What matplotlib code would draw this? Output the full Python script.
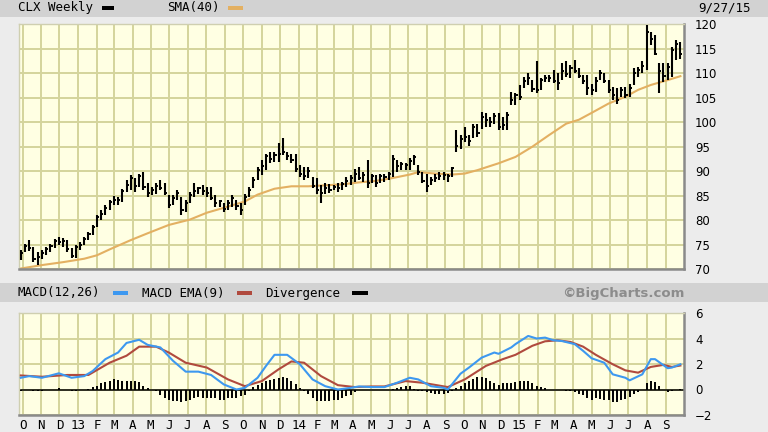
import matplotlib
matplotlib.use('Agg')
import matplotlib.pyplot as plt
import numpy as np
from matplotlib.patches import Rectangle

# weekly CLX bars (week 0 = 2012-09-28)
high = [73.8, 75.2, 75.9, 74.5, 73.5, 73.8, 74.5, 75.2, 76.2, 76.6,
        76.4, 75.9, 74.2, 74.9, 75.5, 76.6, 77.6, 79.0, 81.1, 82.0,
        83.0, 84.0, 85.0, 84.7, 86.4, 88.2, 89.2, 88.5, 89.5, 89.9,
        87.5, 86.8, 87.5, 88.2, 87.5, 85.1, 85.1, 86.1, 84.7, 84.1,
        85.8, 87.5, 86.8, 87.1, 86.8, 86.8, 85.1, 84.1, 83.4, 84.1,
        85.1, 84.1, 83.4, 85.4, 86.8, 88.8, 90.9, 92.3, 93.6, 94.0,
        94.0, 95.7, 96.7, 94.0, 93.6, 93.6, 91.2, 90.9, 90.9, 88.8,
        88.5, 87.1, 87.5, 87.3, 87.1, 87.5, 87.8, 88.8, 89.2, 90.5,
        90.9, 89.9, 92.3, 89.5, 89.2, 89.5, 89.5, 89.9, 93.3, 92.3,
        91.9, 91.6, 92.6, 93.3, 91.2, 89.9, 89.5, 88.8, 89.5, 89.9,
        89.9, 89.5, 90.9, 98.4, 97.4, 99.1, 97.4, 99.7, 99.7, 102.1,
        101.8, 101.1, 101.8, 101.8, 101.1, 102.1, 106.2, 105.9, 107.6, 109.3,
        110.0, 108.6, 112.4, 109.0, 109.6, 109.6, 110.7, 110.0, 112.0, 112.4,
        111.7, 112.7, 111.0, 109.6, 109.6, 107.9, 109.3, 110.7, 110.0, 108.6,
        107.2, 106.9, 107.2, 107.2, 107.9, 111.0, 111.3, 112.4, 119.9, 118.5,
        117.8, 112.0, 112.0, 112.0, 115.4, 116.8, 116.4]
low = [71.8, 73.5, 73.6, 71.4, 70.8, 72.1, 72.8, 73.5, 74.2, 74.9,
       74.5, 73.5, 72.3, 72.3, 73.8, 74.9, 75.9, 76.9, 78.6, 80.0,
       81.0, 82.0, 83.0, 83.0, 83.7, 85.8, 86.1, 85.8, 86.8, 86.1,
       84.7, 85.1, 85.4, 86.1, 85.1, 82.4, 83.0, 84.1, 81.0, 81.7,
       83.4, 84.7, 85.4, 85.1, 84.7, 84.1, 82.7, 82.7, 81.7, 82.0,
       82.7, 82.0, 81.1, 83.0, 84.8, 86.5, 88.2, 89.2, 90.2, 91.6,
       91.9, 91.9, 93.3, 92.3, 91.6, 89.9, 88.8, 88.2, 88.5, 86.5,
       85.4, 83.4, 85.4, 85.6, 86.1, 85.8, 86.1, 86.8, 87.1, 87.8,
       88.2, 87.8, 86.5, 87.5, 86.8, 87.5, 87.8, 88.2, 88.8, 89.9,
       90.2, 90.2, 90.2, 91.2, 89.2, 87.5, 85.8, 87.1, 87.8, 88.2,
       88.2, 87.8, 88.8, 94.0, 94.6, 96.0, 95.1, 96.7, 97.0, 98.7,
       99.1, 99.1, 99.7, 98.4, 98.4, 98.4, 103.5, 103.5, 104.5, 106.9,
       107.6, 106.2, 105.9, 106.6, 108.3, 108.3, 108.0, 106.6, 108.6, 109.3,
       109.0, 110.0, 109.0, 107.9, 105.5, 105.5, 106.2, 108.6, 108.0, 105.9,
       104.5, 103.8, 105.2, 104.9, 105.2, 107.6, 109.3, 110.0, 110.7, 115.8,
       113.7, 105.9, 108.3, 108.6, 109.3, 112.7, 113.0]
close = [73.2, 74.8, 74.2, 72.0, 72.5, 73.2, 74.0, 74.6, 75.8, 75.5,
         75.8, 74.0, 72.6, 74.4, 75.0, 76.2, 77.2, 78.6, 80.6, 81.2,
         82.5, 83.6, 84.0, 84.2, 86.0, 87.2, 88.5, 87.0, 89.0, 86.8,
         85.5, 86.2, 87.0, 86.5, 85.5, 83.0, 84.6, 85.6, 82.0, 83.5,
         85.2, 86.0, 86.5, 86.0, 85.5, 84.6, 83.5, 83.8, 82.2, 83.5,
         84.6, 82.8, 82.0, 84.8, 86.2, 88.2, 90.2, 91.0, 93.0, 92.4,
         93.2, 93.4, 94.0, 93.0, 92.2, 90.5, 89.5, 89.0, 90.0, 87.0,
         86.2, 85.5, 86.5, 86.2, 86.8, 86.6, 87.3, 88.0, 88.5, 89.5,
         88.6, 89.2, 87.5, 89.0, 87.5, 89.0, 88.8, 89.5, 92.5, 91.0,
         91.5, 91.2, 92.0, 92.8, 89.8, 88.0, 87.0, 88.2, 88.5, 89.0,
         89.2, 89.0, 90.6, 95.2, 96.5, 97.0, 96.2, 99.0, 97.8, 101.0,
         100.5, 100.0, 101.2, 99.0, 99.5, 101.5, 104.5, 105.5, 105.2, 108.5,
         109.0, 106.8, 106.5, 108.7, 109.0, 109.0, 108.5, 108.0, 110.5, 109.8,
         111.0, 110.5, 109.5, 108.5, 107.0, 106.5, 108.5, 110.0, 108.5, 106.5,
         105.5, 104.5, 106.5, 105.5, 107.0, 110.0, 110.6, 111.5, 118.5, 117.0,
         114.0, 110.5, 109.5, 111.2, 114.8, 116.0, 114.0]

# SMA(40) read at a few weeks
sma_week = [0, 5, 10, 15, 18, 21, 26, 30, 35, 40, 44, 48, 53, 56, 60, 64, 68, 72, 76, 80,
            84, 88, 92, 94, 98, 102, 105, 108, 113, 117, 121, 125, 129, 132, 135, 139, 143, 146, 149, 153, 156]
sma = [70.1, 70.8, 71.4, 72.1, 72.8, 74.0, 75.9, 77.3, 79.0, 80.1, 81.5, 82.5, 83.8, 85.2, 86.4, 86.9, 86.9, 87.1, 87.3, 87.7,
       88.0, 88.6, 89.3, 89.8, 89.5, 89.3, 89.5, 90.2, 91.6, 92.9, 95.0, 97.4, 99.7, 100.5, 101.9, 103.8, 105.2, 106.6, 107.6, 108.6, 109.4]

# MACD(12,26)
macd_week = [0, 2, 5, 9, 12, 15, 17, 20, 23, 25, 28, 30, 33, 36, 39, 42, 45, 48, 51, 53,
             56, 58, 60, 63, 66, 69, 72, 75, 78, 80, 83, 86, 89, 92, 94, 97, 100, 101, 104, 106,
             109, 112, 113, 116, 117, 120, 122, 124, 126, 128, 131, 133, 135, 138, 140, 143, 144, 147, 149, 150,
             153, 154, 156]
macd = [0.92, 1.05, 0.92, 1.27, 0.92, 1.05, 1.45, 2.38, 2.9, 3.65, 3.9, 3.5, 3.3, 2.25, 1.4, 1.4, 1.14, 0.4, 0.0, 0.13,
        0.92, 1.85, 2.72, 2.72, 1.98, 0.79, 0.26, 0.0, 0.13, 0.24, 0.19, 0.19, 0.53, 0.92, 0.79, 0.26, 0.13, 0.0, 1.24, 1.72,
        2.5, 2.9, 2.8, 3.3, 3.56, 4.2, 4.0, 4.07, 3.86, 3.8, 3.56, 3.03, 2.45, 2.1, 1.19, 0.92, 0.72, 1.19, 2.38, 2.38,
        1.67, 1.72, 1.98]

# MACD EMA(9)
sig_week = [0, 5, 11, 16, 21, 25, 28, 32, 35, 39, 44, 49, 53, 57, 61, 64, 67, 71, 75, 79,
            83, 86, 91, 95, 101, 105, 110, 114, 117, 121, 124, 127, 130, 133, 136, 140, 143, 146, 149, 152,
            154, 156]
sig = [1.1, 1.0, 1.14, 1.14, 2.1, 2.65, 3.36, 3.36, 2.9, 2.1, 1.72, 0.79, 0.26, 0.66, 1.59, 2.2, 2.1, 1.05, 0.34, 0.19,
       0.24, 0.24, 0.66, 0.53, 0.19, 0.79, 1.85, 2.38, 2.72, 3.43, 3.78, 3.86, 3.73, 3.36, 2.72, 1.98, 1.5, 1.32, 1.77, 1.93,
       1.77, 1.88]

# Divergence (weekly)
hist = [-0.1, -0.05, 0, -0.1, -0.1, -0.15, 0, 0, 0, 0.1,
        0, 0, -0.15, -0.1, -0.05, 0, 0.05, 0.2, 0.3, 0.5,
        0.6, 0.7, 0.8, 0.75, 0.66, 0.7, 0.66, 0.7, 0.6, 0.26,
        0.13, 0, -0.13, -0.4, -0.7, -0.8, -0.87, -0.93, -1.0, -0.87,
        -0.8, -0.66, -0.6, -0.66, -0.7, -0.66, -0.7, -0.8, -0.8, -0.7,
        -0.7, -0.66, -0.53, -0.4, -0.13, 0.2, 0.35, 0.53, 0.66, 0.74,
        0.85, 0.93, 0.98, 0.87, 0.66, 0.4, 0.08, -0.13, -0.34, -0.66,
        -0.87, -0.93, -0.87, -0.87, -0.8, -0.8, -0.7, -0.53, -0.4, -0.2,
        0, 0, 0, -0.05, -0.05, 0, 0, 0, 0.05, 0.15,
        0.2, 0.25, 0.3, 0.05, -0.1, -0.15, -0.2, -0.3, -0.35, -0.35,
        -0.35, -0.3, -0.15, 0.15, 0.3, 0.5, 0.7, 0.85, 0.95, 1.0,
        0.9, 0.7, 0.5, 0.35, 0.5, 0.5, 0.5, 0.55, 0.65, 0.7,
        0.65, 0.5, 0.3, 0.2, 0.15, 0, 0, -0.05, 0, -0.1,
        -0.15, -0.2, -0.35, -0.45, -0.7, -0.8, -0.7, -0.75, -0.8, -0.85,
        -1.0, -0.95, -0.85, -0.75, -0.6, -0.35, -0.2, 0, 0.5, 0.65,
        0.55, 0.25, 0, -0.2, -0.1, 0, 0.05]

month_labels = ['O', 'N', 'D', '13', 'F', 'M', 'A', 'M', 'J', 'J', 'A', 'S',
                'O', 'N', 'D', '14', 'F', 'M', 'A', 'M', 'J', 'J', 'A', 'S',
                'O', 'N', 'D', '15', 'F', 'M', 'A', 'M', 'J', 'J', 'A', 'S']

# x positions in days since 2012-10-01
base = np.datetime64('2012-10-01')
first = np.datetime64('2012-09-28')
xday = (first - base).astype(int) + 7 * np.arange(len(close))
months = np.arange(np.datetime64('2012-10'), np.datetime64('2015-10'), dtype='datetime64[M]')
mx = (months.astype('datetime64[D]') - base).astype(int)
sma_x = xday[sma_week]
macd_x = xday[macd_week]
sig_x = xday[sig_week]

W, H = 768, 432
fig = plt.figure(figsize=(W / 100, H / 100), dpi=100)
fig.patch.set_facecolor('#ececec')

def fx(px):
    return px / W

def fy(py):
    return 1 - py / H

mono = 'DejaVu Sans Mono'
grid_c = '#d4d49c'
bg = '#ffffe3'

# legend strips
fig.add_artist(Rectangle((0, fy(17)), 1, 17 / H, transform=fig.transFigure,
                         facecolor='#d2d2d2', edgecolor='none', zorder=0))
fig.add_artist(Rectangle((0, fy(302)), 1, 19 / H, transform=fig.transFigure,
                         facecolor='#d2d2d2', edgecolor='none', zorder=0))

def swatch(x0, x1, yc, col):
    fig.add_artist(Rectangle((fx(x0), fy(yc + 2)), (x1 - x0) / W, 4 / H,
                             transform=fig.transFigure, facecolor=col, edgecolor='none'))

fig.text(fx(18), fy(8), 'CLX Weekly', fontsize=9, family=mono, va='center')
swatch(102, 114, 8, 'black')
fig.text(fx(167), fy(8), 'SMA(40)', fontsize=9, family=mono, va='center')
swatch(228, 243, 8, '#e3b062')
fig.text(fx(751), fy(8), '9/27/15', fontsize=9, family=mono, va='center', ha='right')

fig.text(fx(18), fy(293), 'MACD(12,26)', fontsize=9, family=mono, va='center')
swatch(113, 128, 293, '#3d98f0')
fig.text(fx(142), fy(293), 'MACD EMA(9)', fontsize=9, family=mono, va='center')
swatch(237, 252, 293, '#b04a3e')
fig.text(fx(265), fy(293), 'Divergence', fontsize=9, family=mono, va='center')
swatch(352, 368, 293, 'black')
fig.text(fx(685), fy(293), '\u00a9BigCharts.com', fontsize=9.5, fontweight='bold',
         color='#8c8c8c', va='center', ha='right')

ax1 = fig.add_axes([fx(19), fy(269), 665 / W, (269 - 24.3) / H])
ax2 = fig.add_axes([fx(19), fy(415), 665 / W, (415 - 313) / H])

for ax in (ax1, ax2):
    ax.set_facecolor(bg)
    ax.set_xlim(-6, 1095)
    ax.set_xticks(mx)
    ax.grid(True, color=grid_c, lw=1.4)
    ax.set_axisbelow(True)
    ax.yaxis.tick_right()
    ax.tick_params(axis='y', length=0, pad=8, labelsize=8.5)
    ax.tick_params(axis='x', length=0)
    for s in ('top', 'left'):
        ax.spines[s].set_color('#cfcfb0')
        ax.spines[s].set_linewidth(1)
    for s in ('bottom', 'right'):
        ax.spines[s].set_color('#8a8a8a')
        ax.spines[s].set_linewidth(1.8)

# price panel
ax1.set_ylim(70, 120)
ax1.set_yticks(range(70, 121, 5))
ax1.set_xticklabels([])
ax1.plot(sma_x, sma, color='#e3b062', lw=1.5, zorder=2)
ax1.vlines(xday, low, high, color='black', lw=1.5, zorder=3)
ax1.hlines(close, xday, xday + 3.5, color='black', lw=1.4, zorder=3)

# MACD panel
ax2.set_ylim(-2, 6)
ax2.set_yticks([-2, 0, 2, 4, 6])
ax2.axhline(0, color='black', lw=1.1, zorder=2)
ax2.vlines(xday, 0, hist, color='black', lw=1.4, zorder=3)
ax2.plot(sig_x, sig, color='#b04a3e', lw=1.5, zorder=4)
ax2.plot(macd_x, macd, color='#3d98f0', lw=1.5, zorder=5)
ax2.set_xticklabels(month_labels, fontsize=9, family=mono)
ax2.tick_params(axis='x', pad=3)

fig.savefig('out.png', dpi=100, facecolor=fig.get_facecolor())
